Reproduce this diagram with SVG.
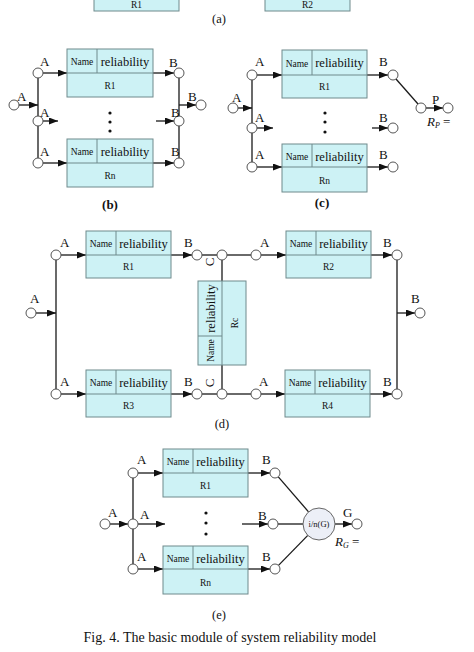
<svg xmlns="http://www.w3.org/2000/svg" width="474" height="652" viewBox="0 0 474 652">
<style>
.bx{fill:#cdf2f5;stroke:#6f8a8c;stroke-width:1}
.dv{stroke:#6f8a8c;stroke-width:1}
.w{stroke:#1a1a1a;stroke-width:1.3;fill:none}
.a{stroke:#1a1a1a;stroke-width:1.3;fill:none;marker-end:url(#ar)}
.c{fill:#fff;stroke:#555;stroke-width:1}
text{font-family:"Liberation Serif","Times New Roman",serif;fill:#111}
.l{font-size:13px}
.nm{font-size:9.5px;text-anchor:middle}
.rl{font-size:12.5px;text-anchor:middle}
.rn{font-size:9.5px;text-anchor:middle}
.cap{font-size:12.5px;text-anchor:middle}
.capb{font-size:13px;font-weight:bold;text-anchor:middle}
.dot{fill:#111}
</style>
<defs>
<marker id="ar" markerWidth="9" markerHeight="7" refX="9" refY="3.5" orient="auto" markerUnits="userSpaceOnUse"><path d="M0,0 L9,3.5 L0,7 z" fill="#111"/></marker>
</defs>
<rect x="0" y="0" width="474" height="652" fill="#fff"/>

<!-- (a) -->
<g id="a-R1"><rect class="bx" x="94" y="-36" width="85" height="47"/><line class="dv" x1="94" y1="-13" x2="179" y2="-13"/><text class="rn" x="136.5" y="8">R1</text></g>
<g id="a-R2"><rect class="bx" x="265" y="-36" width="85" height="47"/><line class="dv" x1="265" y1="-13" x2="350" y2="-13"/><text class="rn" x="307.5" y="8">R2</text></g>
<text class="cap" x="219" y="23">(a)</text>

<g id="connectors">
<!-- (b) -->
<line class="w" x1="38" y1="73" x2="38" y2="163"/>
<line class="a" x1="19" y1="105" x2="38" y2="105"/>
<line class="a" x1="43" y1="73" x2="67" y2="73"/>
<line class="a" x1="43" y1="121" x2="58" y2="121"/>
<line class="a" x1="43" y1="163" x2="67" y2="163"/>
<line class="a" x1="153" y1="73" x2="174" y2="73"/>
<line class="a" x1="156" y1="121" x2="174" y2="121"/>
<line class="a" x1="153" y1="163" x2="174" y2="163"/>
<line class="w" x1="179" y1="73" x2="179" y2="163"/>
<line class="a" x1="179" y1="105" x2="196" y2="105"/>
<!-- (c) -->
<line class="w" x1="252" y1="75" x2="252" y2="167"/>
<line class="a" x1="238" y1="108" x2="252" y2="108"/>
<line class="a" x1="257" y1="75" x2="282" y2="75"/>
<line class="a" x1="257" y1="128" x2="273" y2="128"/>
<line class="a" x1="257" y1="167" x2="282" y2="167"/>
<line class="a" x1="367" y1="75" x2="388" y2="75"/>
<line class="a" x1="372" y1="128" x2="388" y2="128"/>
<line class="a" x1="367" y1="167" x2="388" y2="167"/>
<line class="w" x1="396" y1="79" x2="418" y2="104"/>
<line class="a" x1="426" y1="108" x2="443" y2="108"/>
<!-- (d) -->
<line class="w" x1="56" y1="255" x2="56" y2="394"/>
<line class="a" x1="36" y1="313" x2="56" y2="313"/>
<line class="a" x1="61" y1="255" x2="86" y2="255"/>
<line class="a" x1="171" y1="255" x2="192" y2="255"/>
<line class="w" x1="202" y1="255" x2="217" y2="255"/>
<line class="w" x1="227" y1="255" x2="251" y2="255"/>
<line class="a" x1="261" y1="255" x2="286" y2="255"/>
<line class="a" x1="371" y1="255" x2="392" y2="255"/>
<line class="a" x1="61" y1="394" x2="86" y2="394"/>
<line class="a" x1="171" y1="394" x2="192" y2="394"/>
<line class="w" x1="202" y1="394" x2="217" y2="394"/>
<line class="w" x1="227" y1="394" x2="251" y2="394"/>
<line class="a" x1="261" y1="394" x2="285" y2="394"/>
<line class="a" x1="370" y1="394" x2="392" y2="394"/>
<line class="w" x1="397" y1="255" x2="397" y2="394"/>
<line class="a" x1="397" y1="313" x2="415" y2="313"/>
<line class="w" x1="222" y1="260" x2="222" y2="389"/>
<!-- (e) -->
<line class="w" x1="133" y1="473" x2="133" y2="569"/>
<line class="a" x1="110" y1="524" x2="128" y2="524"/>
<line class="a" x1="138" y1="473" x2="163" y2="473"/>
<line class="a" x1="138" y1="524" x2="165" y2="524"/>
<line class="a" x1="138" y1="569" x2="163" y2="569"/>
<line class="a" x1="248" y1="473" x2="270" y2="473"/>
<line class="a" x1="242" y1="524" x2="268" y2="524"/>
<line class="a" x1="248" y1="569" x2="270" y2="569"/>
<line class="w" x1="278.3" y1="476.8" x2="308.5" y2="511.8"/>
<line class="w" x1="278" y1="524" x2="303" y2="524"/>
<line class="w" x1="278.5" y1="565.4" x2="307.8" y2="535.4"/>
<line class="a" x1="335" y1="524" x2="352" y2="524"/>
</g>

<!-- (b) nodes -->
<g id="b-R1"><rect class="bx" x="67" y="49" width="86" height="48"/><line class="dv" x1="67" y1="73" x2="153" y2="73"/><line class="dv" x1="97" y1="49" x2="97" y2="73"/><text class="nm" x="82" y="65">Name</text><text class="rl" x="125" y="66">reliability</text><text class="rn" x="110" y="89">R1</text></g>
<g id="b-Rn"><rect class="bx" x="67" y="139" width="86" height="48"/><line class="dv" x1="67" y1="163" x2="153" y2="163"/><line class="dv" x1="97" y1="139" x2="97" y2="163"/><text class="nm" x="82" y="155">Name</text><text class="rl" x="125" y="156">reliability</text><text class="rn" x="110" y="179">Rn</text></g>
<g id="b-ports">
<circle class="c" cx="14" cy="105" r="5"/><circle class="c" cx="38" cy="73" r="5"/><circle class="c" cx="38" cy="121" r="5"/><circle class="c" cx="38" cy="163" r="5"/>
<circle class="c" cx="179" cy="73" r="5"/><circle class="c" cx="179" cy="121" r="5"/><circle class="c" cx="179" cy="163" r="5"/><circle class="c" cx="201" cy="105" r="5"/>
<text class="l" x="17" y="101">A</text><text class="l" x="40" y="66">A</text><text class="l" x="40" y="117">A</text><text class="l" x="40" y="156">A</text>
<text class="l" x="169" y="67">B</text><text class="l" x="171" y="117">B</text><text class="l" x="171" y="156">B</text><text class="l" x="188" y="101">B</text>
<circle class="dot" cx="110" cy="113" r="1.6"/><circle class="dot" cx="110" cy="122" r="1.6"/><circle class="dot" cx="110" cy="131" r="1.6"/>
</g>
<text class="capb" x="110" y="209">(b)</text>

<!-- (c) nodes -->
<g id="c-R1"><rect class="bx" x="282" y="50" width="85" height="48"/><line class="dv" x1="282" y1="75" x2="367" y2="75"/><line class="dv" x1="312" y1="50" x2="312" y2="75"/><text class="nm" x="297" y="67">Name</text><text class="rl" x="339.5" y="67">reliability</text><text class="rn" x="324.5" y="90">R1</text></g>
<g id="c-Rn"><rect class="bx" x="282" y="144" width="85" height="48"/><line class="dv" x1="282" y1="167" x2="367" y2="167"/><line class="dv" x1="312" y1="144" x2="312" y2="167"/><text class="nm" x="297" y="160">Name</text><text class="rl" x="339.5" y="161">reliability</text><text class="rn" x="324.5" y="184">Rn</text></g>
<g id="c-ports">
<circle class="c" cx="233" cy="108" r="5"/><circle class="c" cx="252" cy="75" r="5"/><circle class="c" cx="252" cy="128" r="5"/><circle class="c" cx="252" cy="167" r="5"/>
<circle class="c" cx="393" cy="75" r="5"/><circle class="c" cx="393" cy="128" r="5"/><circle class="c" cx="393" cy="167" r="5"/><circle class="c" cx="421" cy="108" r="5"/><circle class="c" cx="448" cy="108" r="5"/>
<text class="l" x="232" y="102">A</text><text class="l" x="255" y="66">A</text><text class="l" x="255" y="122">A</text><text class="l" x="255" y="159">A</text>
<text class="l" x="379" y="66">B</text><text class="l" x="379" y="122">B</text><text class="l" x="379" y="159">B</text><text class="l" x="432" y="104">P</text>
<text class="l" x="427" y="126"><tspan font-style="italic">R</tspan><tspan font-style="italic" font-size="8" dy="2">P</tspan><tspan dy="-2"> =</tspan></text>
<circle class="dot" cx="325" cy="113" r="1.6"/><circle class="dot" cx="325" cy="122" r="1.6"/><circle class="dot" cx="325" cy="132" r="1.6"/>
</g>
<text class="capb" x="322" y="207">(c)</text>

<!-- (d) nodes -->
<g id="d-R1"><rect class="bx" x="86" y="231" width="85" height="47"/><line class="dv" x1="86" y1="255" x2="171" y2="255"/><line class="dv" x1="116" y1="231" x2="116" y2="255"/><text class="nm" x="101" y="247">Name</text><text class="rl" x="143.5" y="248">reliability</text><text class="rn" x="128.5" y="270">R1</text></g>
<g id="d-R2"><rect class="bx" x="286" y="231" width="85" height="47"/><line class="dv" x1="286" y1="255" x2="371" y2="255"/><line class="dv" x1="316" y1="231" x2="316" y2="255"/><text class="nm" x="301" y="247">Name</text><text class="rl" x="343.5" y="248">reliability</text><text class="rn" x="328.5" y="270">R2</text></g>
<g id="d-R3"><rect class="bx" x="86" y="370" width="85" height="47"/><line class="dv" x1="86" y1="394" x2="171" y2="394"/><line class="dv" x1="116" y1="370" x2="116" y2="394"/><text class="nm" x="101" y="386">Name</text><text class="rl" x="143.5" y="387">reliability</text><text class="rn" x="128.5" y="409">R3</text></g>
<g id="d-R4"><rect class="bx" x="285" y="370" width="85" height="47"/><line class="dv" x1="285" y1="394" x2="370" y2="394"/><line class="dv" x1="315" y1="370" x2="315" y2="394"/><text class="nm" x="300" y="386">Name</text><text class="rl" x="342.5" y="387">reliability</text><text class="rn" x="327.5" y="409">R4</text></g>
<g id="d-Rc"><rect class="bx" x="198" y="281" width="48" height="84"/><line class="dv" x1="222" y1="281" x2="222" y2="365"/><line class="dv" x1="198" y1="336" x2="222" y2="336"/>
<text class="rl" transform="translate(214.5,308.5) rotate(-90)">reliability</text>
<text class="nm" transform="translate(213.5,350.5) rotate(-90)">Name</text>
<text class="rn" transform="translate(237.5,323) rotate(-90)">Rc</text></g>
<g id="d-ports">
<circle class="c" cx="31" cy="313" r="5"/><circle class="c" cx="56" cy="255" r="5"/><circle class="c" cx="56" cy="394" r="5"/>
<circle class="c" cx="197" cy="255" r="5"/><circle class="c" cx="222" cy="255" r="5"/><circle class="c" cx="256" cy="255" r="5"/><circle class="c" cx="397" cy="255" r="5"/>
<circle class="c" cx="197" cy="394" r="5"/><circle class="c" cx="222" cy="394" r="5"/><circle class="c" cx="256" cy="394" r="5"/><circle class="c" cx="397" cy="394" r="5"/>
<circle class="c" cx="420" cy="313" r="5"/>
<text class="l" x="30" y="303">A</text><text class="l" x="60" y="247">A</text><text class="l" x="184" y="247">B</text><text class="l" x="260" y="247">A</text><text class="l" x="383" y="247">B</text><text class="l" x="411" y="303">B</text>
<text class="l" x="60" y="386">A</text><text class="l" x="184" y="386">B</text><text class="l" x="259" y="386">A</text><text class="l" x="383" y="386">B</text>
<text class="l" text-anchor="middle" transform="translate(213.5,262) rotate(-90)">C</text>
<text class="l" text-anchor="middle" transform="translate(213.5,383) rotate(-90)">C</text>
</g>
<text class="cap" x="222" y="428">(d)</text>

<!-- (e) nodes -->
<g id="e-R1"><rect class="bx" x="163" y="449" width="85" height="48"/><line class="dv" x1="163" y1="473" x2="248" y2="473"/><line class="dv" x1="193" y1="449" x2="193" y2="473"/><text class="nm" x="178" y="465">Name</text><text class="rl" x="220.5" y="466">reliability</text><text class="rn" x="205.5" y="489">R1</text></g>
<g id="e-Rn"><rect class="bx" x="163" y="546" width="85" height="48"/><line class="dv" x1="163" y1="569" x2="248" y2="569"/><line class="dv" x1="193" y1="546" x2="193" y2="569"/><text class="nm" x="178" y="562">Name</text><text class="rl" x="220.5" y="563">reliability</text><text class="rn" x="205.5" y="586">Rn</text></g>
<g id="e-G"><circle cx="319" cy="524" r="16" fill="#eceff7" stroke="#666" stroke-width="1"/><text x="319" y="527" font-size="8.5" text-anchor="middle">i/n(G)</text></g>
<g id="e-ports">
<circle class="c" cx="105" cy="524" r="5"/><circle class="c" cx="133" cy="473" r="5"/><circle class="c" cx="133" cy="524" r="5"/><circle class="c" cx="133" cy="569" r="5"/>
<circle class="c" cx="275" cy="473" r="5"/><circle class="c" cx="273" cy="524" r="5"/><circle class="c" cx="275" cy="569" r="5"/><circle class="c" cx="357" cy="524" r="5"/>
<text class="l" x="108" y="517">A</text><text class="l" x="137" y="464">A</text><text class="l" x="140" y="519">A</text><text class="l" x="137" y="561">A</text>
<text class="l" x="262" y="464">B</text><text class="l" x="258" y="520">B</text><text class="l" x="262" y="561">B</text><text class="l" x="343" y="517">G</text>
<text class="l" x="335" y="546"><tspan font-style="italic">R</tspan><tspan font-style="italic" font-size="8" dy="2">G</tspan><tspan dy="-2"> =</tspan></text>
<circle class="dot" cx="206" cy="513" r="1.6"/><circle class="dot" cx="206" cy="523" r="1.6"/><circle class="dot" cx="206" cy="534" r="1.6"/>
</g>
<text class="cap" x="219" y="619">(e)</text>
<text x="230" y="642" font-size="14" text-anchor="middle">Fig. 4. The basic module of system reliability model</text>
</svg>
